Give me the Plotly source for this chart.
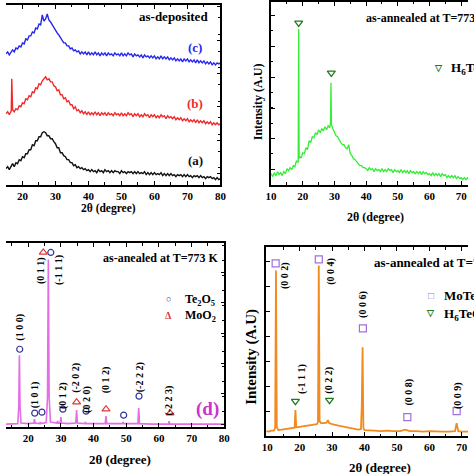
import numpy as np
import plotly.graph_objects as go

FONT = "Liberation Serif, Times New Roman, serif"
W = H = 474

# ---------------- Panel (top-left): as-deposited, 2theta sampled every 0.5 deg from 15 to 80
a_start, a_step = 15.0, 0.5
curve_a = [16, 18, 15, 18, 21, 18, 22, 21, 25, 24,
           28, 27, 31, 31, 35, 35, 40, 39, 44, 44,
           48, 48, 52, 53, 52, 49, 49, 46, 46, 43,
           41, 37, 37, 32, 32, 29, 28, 25, 25, 22,
           22, 19, 20, 17, 18, 16, 17, 15, 16, 14,
           15, 13, 15, 13, 14, 12, 15, 13, 14, 12,
           15, 13, 14, 12, 14, 12, 14, 13, 13, 11,
           14, 12, 13, 11, 13, 12, 13, 11, 13, 11,
           13, 11, 12, 11, 13, 10, 12, 10, 12, 10,
           12, 10, 11, 10, 12, 9, 11, 9, 11, 9,
           11, 9, 10, 8, 10, 9, 10, 8, 10, 8,
           10, 8, 9, 7, 9, 8, 9, 7, 9, 7,
           8, 6, 8, 7, 8, 6, 7, 5, 7, 5,
           6]
curve_b = [71, 73, 70, 73, 75, 73, 76, 75, 79, 78,
           82, 81, 86, 85, 89, 88, 93, 92, 97, 96,
           101, 100, 104, 106, 108, 105, 106, 103, 103, 99,
           98, 94, 95, 90, 90, 86, 87, 83, 84, 80,
           80, 76, 78, 74, 75, 72, 74, 71, 73, 70,
           73, 70, 72, 70, 73, 70, 72, 69, 72, 70,
           72, 69, 72, 70, 71, 69, 72, 70, 71, 69,
           72, 69, 71, 69, 72, 70, 71, 68, 71, 69,
           71, 68, 70, 68, 71, 69, 70, 67, 70, 68,
           70, 67, 69, 67, 70, 68, 69, 66, 69, 67,
           68, 66, 68, 65, 67, 65, 67, 64, 66, 64,
           66, 63, 65, 63, 65, 62, 65, 62, 64, 62,
           64, 61, 63, 61, 63, 60, 62, 60, 62, 60,
           61]
spike_b_x = [16.6, 16.75, 16.9]
spike_b_y = [74, 106, 75]
curve_c = [131, 133, 130, 133, 135, 133, 137, 136, 139, 138,
           142, 141, 146, 145, 149, 149, 153, 152, 157, 156,
           161, 160, 170, 164, 166, 171, 165, 163, 160, 157,
           154, 152, 150, 147, 145, 142, 142, 139, 139, 136,
           137, 134, 135, 133, 134, 131, 133, 131, 133, 130,
           133, 130, 132, 130, 133, 130, 132, 129, 132, 130,
           132, 129, 132, 130, 131, 129, 132, 130, 131, 129,
           132, 129, 131, 129, 132, 130, 131, 128, 131, 129,
           130, 128, 130, 127, 130, 128, 129, 127, 129, 127,
           129, 126, 128, 126, 129, 126, 128, 126, 128, 125,
           127, 125, 127, 124, 126, 124, 126, 123, 126, 124,
           126, 123, 125, 123, 125, 122, 125, 122, 124, 122,
           124, 121, 123, 121, 123, 120, 122, 120, 122, 121,
           122]

# ---------------- Panel (top-right): annealed, 2theta every 0.5 deg from 10 to 80
g_start, g_step = 10.0, 0.5
curve_g = [11, 8, 12, 9, 13, 10, 12, 9, 13, 11,
           16, 14, 17, 15, 19, 18, 24, 22, 28, 27,
           32, 31, 37, 35, 44, 42, 48, 47, 52, 50,
           55, 52, 56, 54, 58, 55, 59, 57, 62, 56,
           52, 49, 48, 44, 42, 40, 40, 37, 36, 40,
           31, 29, 26, 25, 23, 21, 19, 19, 17, 17,
           16, 14, 17, 15, 16, 13, 16, 14, 15, 13,
           16, 13, 15, 13, 16, 14, 15, 12, 15, 13,
           14, 12, 15, 12, 14, 12, 14, 11, 14, 12,
           13, 11, 13, 11, 13, 10, 13, 11, 12, 10,
           11, 9, 12, 9, 11, 9, 11, 8, 11, 9,
           10, 7, 9, 7, 9, 7, 9, 6, 8, 6,
           7, 5, 7, 5, 7, 4, 6, 4, 6, 4,
           5, 3, 5, 3, 5, 3, 4, 2, 4, 3,
           3]
spike_g_x = [18.55, 18.7, 18.85, 28.75, 28.9, 29.05]
spike_g_y = [24, 156, 26, 62, 102, 60]
g_mark_x = [18.7, 29.0]
g_mark_y = [162, 112]

# ---------------- Panel (bottom-left): as-anealed, Te2O5 / MoO2
c_pts = [(13.2, 3), (15, 3), (16.8, 3.5), (17.1, 20), (17.3, 72), (17.5, 20), (17.8, 4),
         (20, 3.5), (21.7, 4), (21.9, 8), (22.1, 4), (23.5, 3.5), (23.7, 5), (23.9, 3.5),
         (25.5, 4.5), (25.9, 30), (26.15, 168), (26.4, 30), (26.8, 5), (28.8, 4), (29.0, 6),
         (29.2, 4), (29.8, 4), (30.0, 10), (30.2, 4), (32, 3.5), (34.55, 4), (34.8, 17),
         (35.05, 4), (37.3, 3.5), (37.5, 5), (37.7, 3.5), (40, 3.5), (43.55, 3.5), (43.8, 11),
         (44.05, 3.5), (46, 3.5), (48.8, 3.5), (49.0, 5), (49.2, 3.5), (51, 3.5), (53.55, 3.5),
         (53.8, 19), (54.05, 3.5), (58, 3), (62.9, 3), (63.1, 6), (63.3, 3), (70, 3), (80, 3)]
te2o5_x = [17.4, 22.0, 24.2, 26.9, 30.6, 37.7, 49.2, 53.9]
te2o5_y = [78, 14, 15, 175, 18, 16, 12, 31]
moo2_x = [24.6, 34.8, 43.8, 63.4]
moo2_y = [175, 25, 18, 14]
c_hkl_x = [17.6, 22.1, 24.1, 29.6, 30.6, 34.8, 37.9, 43.8, 54.2, 63.2]
c_hkl_y = [100, 32, 157, 157, 32, 49, 28, 47, 50, 27]
c_hkl_t = ["(1 0 0)", "(1 0 1)", "(0 1 1)", "(-1 1 1)", "(0 1 2)", "(-2 0 2)",
           "(0 2 0)", "(0 1 2)", "(-2 2 2)", "(-2 2 3)"]

# ---------------- Panel (bottom-right): MoTe2 / H6TeO6
d_pts = [(9.7, 5), (10.5, 4.5), (11.3, 5.5), (12.0, 5.5), (12.45, 8), (12.7, 166), (12.95, 9),
         (13.4, 6), (14.5, 6.5), (15.5, 7), (16.5, 7.5), (17.5, 8), (18.45, 8.5), (18.7, 26),
         (18.95, 9), (19.5, 9), (20.5, 9.5), (21.5, 10), (22.5, 10.5), (23.5, 11), (24.5, 11.5),
         (25.3, 12), (25.65, 14), (25.9, 171), (26.15, 15), (26.6, 13), (27.5, 13), (28.3, 13.5),
         (28.7, 16), (29.1, 13), (30.0, 12), (31.0, 11), (32.0, 10.5), (33.5, 9.5), (35.0, 8.5),
         (36.5, 7.5), (38.0, 6.5), (38.9, 7), (39.15, 30), (39.4, 89), (39.65, 8), (40.0, 6),
         (41.0, 6), (43.0, 5.5), (45.0, 5), (47.0, 5.5), (49.0, 5), (51.0, 5), (52.5, 6.5),
         (54.0, 5), (56.0, 5), (58.0, 4.5), (60.0, 5), (62.0, 4.5), (64.0, 4.5), (66.0, 4.5),
         (67.9, 5), (68.4, 13), (68.9, 5), (70.0, 4.5), (72.0, 4.5)]
mote2_x = [12.6, 25.9, 39.5, 53.2, 68.4]
mote2_y = [173, 177, 108, 19, 25]
h6_x = [18.7, 29.2]
h6_y = [35, 36]
d_hkl_x = [15.7, 29.8, 20.7, 29.2, 39.7, 53.8, 68.8]
d_hkl_y = [161, 165, 57, 56, 132, 44, 41]
d_hkl_t = ["(0 0 2)", "(0 0 4)", "(-1 1 1)", "(0 2 2)", "(0 0 6)", "(0 0 8)", "(0 0 9)"]


def grid(start, step, vals):
    return [start + i * step for i in range(len(vals))]


def merge(gx, gy, sx, sy):
    x = np.concatenate([gx, sx])
    y = np.concatenate([gy, sy])
    o = np.argsort(x, kind="stable")
    return x[o], y[o]


fig = go.Figure()
ax_ = grid(a_start, a_step, curve_a)
fig.add_trace(go.Scatter(x=ax_, y=curve_a, mode="lines", line=dict(color="#111111", width=1.4),
                         xaxis="x", yaxis="y"))
bx, by = merge(ax_, curve_b, spike_b_x, spike_b_y)
fig.add_trace(go.Scatter(x=bx, y=by, mode="lines", line=dict(color="#f02a2a", width=1.4),
                         xaxis="x", yaxis="y"))
fig.add_trace(go.Scatter(x=ax_, y=curve_c, mode="lines", line=dict(color="#2626f0", width=1.4),
                         xaxis="x", yaxis="y"))

gx, gy = merge(grid(g_start, g_step, curve_g), curve_g, spike_g_x, spike_g_y)
fig.add_trace(go.Scatter(x=gx, y=gy, mode="lines", line=dict(color="#33ee33", width=1.3),
                         xaxis="x2", yaxis="y2"))
fig.add_trace(go.Scatter(x=g_mark_x, y=g_mark_y, mode="markers",
                         marker=dict(symbol="triangle-down-open", size=7, color="#1f7a1f",
                                     line=dict(width=1.3)), xaxis="x2", yaxis="y2"))

fig.add_trace(go.Scatter(x=[p[0] for p in c_pts], y=[p[1] for p in c_pts], mode="lines",
                         line=dict(color="#e46ee4", width=1.6), xaxis="x3", yaxis="y3"))
fig.add_trace(go.Scatter(x=te2o5_x, y=te2o5_y, mode="markers",
                         marker=dict(symbol="circle-open", size=6, color="#34349a",
                                     line=dict(width=1.2)), xaxis="x3", yaxis="y3"))
fig.add_trace(go.Scatter(x=moo2_x, y=moo2_y, mode="markers",
                         marker=dict(symbol="triangle-up-open", size=7, color="#e03a3a",
                                     line=dict(width=1.2)), xaxis="x3", yaxis="y3"))

fig.add_trace(go.Scatter(x=[p[0] for p in d_pts], y=[p[1] for p in d_pts], mode="lines",
                         line=dict(color="#f28a1e", width=1.8), xaxis="x4", yaxis="y4"))
fig.add_trace(go.Scatter(x=mote2_x, y=mote2_y, mode="markers",
                         marker=dict(symbol="square-open", size=7, color="#a070d8",
                                     line=dict(width=1.2)), xaxis="x4", yaxis="y4"))
fig.add_trace(go.Scatter(x=h6_x, y=h6_y, mode="markers",
                         marker=dict(symbol="triangle-down-open", size=7, color="#1f7a1f",
                                     line=dict(width=1.3)), xaxis="x4", yaxis="y4"))


def xd(p0, p1):
    return [p0 / W, p1 / W]


def yd(top, bot):
    return [1 - bot / H, 1 - top / H]


def xax(dom, rng, anchor):
    return dict(domain=dom, range=rng, anchor=anchor, showline=True, linecolor="black",
                linewidth=1.5, mirror="ticks", ticks="inside", ticklen=4, tickwidth=1.2,
                tickcolor="black", tick0=0, dtick=10, showgrid=False, zeroline=False,
                minor=dict(ticks="inside", ticklen=2.5, dtick=5, tickcolor="black", tickwidth=1),
                tickfont=dict(family=FONT, size=11, color="black", weight="bold"))


def yax(dom, rng, anchor, side, tick0, dtick, mdtick):
    return dict(domain=dom, range=rng, anchor=anchor, side=side, showline=True,
                linecolor="black", linewidth=1.5, mirror=False, ticks="inside", ticklen=4,
                tickwidth=1.2, tickcolor="black", tick0=tick0, dtick=dtick,
                showticklabels=False, showgrid=False, zeroline=False,
                minor=dict(ticks="inside", ticklen=2.5, dtick=mdtick, tickcolor="black"))


fig.update_layout(
    width=W, height=H, margin=dict(l=0, r=0, t=0, b=0),
    paper_bgcolor="white", plot_bgcolor="white", showlegend=False,
    xaxis=xax(xd(0, 220), [15, 80], "y"),
    yaxis=yax(yd(4, 184), [0, 180], "x", "right", 11, 33.4, 16.7),
    xaxis2=xax(xd(272, 474), [10, 72.15], "y2"),
    yaxis2=yax(yd(1, 184), [0, 183], "x2", "left", 15, 30.8, 15.4),
    xaxis3=xax(xd(0, 224), [13.2, 80], "y3"),
    yaxis3=yax(yd(243, 427), [0, 184], "x3", "right", 3, 30.4, 15.2),
    xaxis4=xax(xd(267, 474), [9.7, 71.9], "y4"),
    yaxis4=yax(yd(247, 436), [0, 189], "x4", "left", 0, 25, 25),
)

ann = []


def ptext(px, py, text, size, color="black", xanchor="center", angle=0):
    ann.append(dict(xref="paper", yref="paper", x=px / W, y=1 - py / H, text=text,
                    showarrow=False, xanchor=xanchor, yanchor="middle", textangle=angle,
                    font=dict(family=FONT, size=size, color=color, weight="bold")))


# Panel A texts
ptext(172, 16, "as-deposited", 13)
ptext(194, 47, "(c)", 13, "#2626f0")
ptext(194, 103, "(b)", 13, "#f02a2a")
ptext(194, 160, "(a)", 13, "#111111")
ptext(105, 208, "2θ (degree)", 11.5)
# Panel B texts
ptext(367, 17, "as-annealed at T=773 K", 12, xanchor="left")
ptext(444, 67, "▽", 9, "#1f7a1f")
ptext(455, 68, "H<sub>6</sub>TeO<sub>6</sub>", 13, xanchor="left")
ptext(258, 101, "Intensity (A.U)", 12, angle=-90)
ptext(379, 216, "2θ (degree)", 12)
# Panel C texts
ptext(159, 258, "as-anealed at T=773 K", 12)
ptext(167, 299, "○", 9, "#34349a")
ptext(182, 300, "Te<sub>2</sub>O<sub>5</sub>", 12, xanchor="left")
ptext(167, 315, "Δ", 10, "#e03a3a")
ptext(182, 316, "MoO<sub>2</sub>", 12, xanchor="left")
ptext(207, 409, "(d)", 19, "#cc33cc")
ptext(117, 459, "2θ (degree)", 13)
# Panel D texts
ptext(375, 262, "as-annealed at T=773 K", 13, xanchor="left")
ptext(436, 295, "□", 10, "#a070d8")
ptext(447, 296, "MoTe<sub>2</sub>", 13, xanchor="left")
ptext(436, 313, "▽", 9, "#1f7a1f")
ptext(447, 314, "H<sub>6</sub>TeO<sub>6</sub>", 13, xanchor="left")
ptext(252, 357, "Intensity (A.U)", 15, angle=-90)
ptext(384, 467, "2θ (degree)", 13)

for x, y, t in zip(c_hkl_x, c_hkl_y, c_hkl_t):
    ann.append(dict(xref="x3", yref="y3", x=x, y=y, text=t, showarrow=False, textangle=-90,
                    font=dict(family=FONT, size=10, color="black", weight="bold")))
for x, y, t in zip(d_hkl_x, d_hkl_y, d_hkl_t):
    ann.append(dict(xref="x4", yref="y4", x=x, y=y, text=t, showarrow=False, textangle=-90,
                    font=dict(family=FONT, size=10, color="black", weight="bold")))

fig.update_layout(annotations=ann)
fig.write_html("out.html")
